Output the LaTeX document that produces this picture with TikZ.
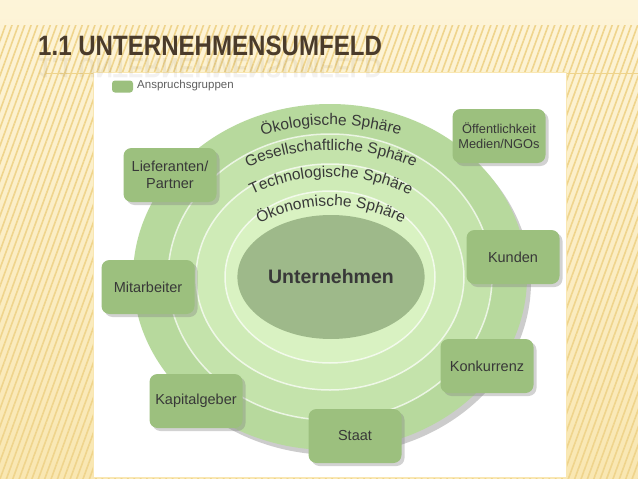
\documentclass[tikz,border=0pt]{standalone}
\usepackage{fontspec}
\setmainfont{Liberation Sans}
\newfontfamily\titlefont[FakeStretch=0.86]{Liberation Sans}
\usetikzlibrary{shadows,shapes.geometric,decorations.text,patterns.meta}
\definecolor{bgcream}{HTML}{F9E7B2}
\definecolor{bglight}{HTML}{FDF4D8}
\definecolor{stripe}{HTML}{EFD48C}
\definecolor{titlebrown}{HTML}{4A3B2B}
\definecolor{boxgreen}{HTML}{9CC07E}
\definecolor{ringA}{HTML}{B7D99D}
\definecolor{ringB}{HTML}{C4E3AB}
\definecolor{ringC}{HTML}{CFEBB7}
\definecolor{ringD}{HTML}{D9F2C2}
\definecolor{kerngreen}{HTML}{9EB98A}
\definecolor{textgray}{HTML}{383838}

\begin{document}
\begin{tikzpicture}[x=1pt, y=1pt,
    gruppe/.style={rectangle, rounded corners=8pt, fill=boxgreen,
      minimum width=93pt, minimum height=54pt, align=center, text=textgray,
      font=\fontsize{14.5}{17}\selectfont,
      drop shadow={shadow xshift=3pt, shadow yshift=-3pt, opacity=0.35}},
    ring/.style={draw=white, line width=1.5pt, draw opacity=0.7},
    sphaere/.style={decorate, decoration={text along path, text align=center,
      text color=textgray, text={|\fontsize{15.5}{18}\selectfont|#1}}}]
      \useasboundingbox (0,0) rectangle (638,-479);

      % slide background
      \shade[top color=bglight, bottom color=bgcream] (0,0) rectangle (638,-479);
      \fill[pattern={Lines[angle=70, distance=6pt, line width=1.6pt]},
        pattern color=stripe, fill opacity=0.3] (0,-25) rectangle (638,-479);
      \draw[color=stripe, line width=0.6pt] (45,-73) to (638,-73);
      \fill[white, draw=bgcream] (93,-72) rectangle (566,-477);

      \node[anchor=base west, inner sep=0pt, text=titlebrown,
        font=\titlefont\bfseries\fontsize{28}{30}\selectfont] (titel) at (38,-56) {1.1 UNTERNEHMENSUMFELD};
      \node[anchor=base west, inner sep=0pt, text=titlebrown, opacity=0.07, yscale=-1,
        font=\titlefont\bfseries\fontsize{28}{30}\selectfont] (spiegel) at (38,-58) {1.1 UNTERNEHMENSUMFELD};

      % spheres
      \fill[ringA, drop shadow={shadow xshift=4pt, shadow yshift=-5pt, opacity=0.4}]
        (330,-277) ellipse [x radius=197, y radius=173];
      \filldraw[fill=ringB, ring] (330,-277) ellipse [x radius=162, y radius=143];
      \filldraw[fill=ringC, ring] (330,-277) ellipse [x radius=134, y radius=113];
      \filldraw[fill=ringD, ring] (330,-277) ellipse [x radius=105, y radius=86];

      \path[sphaere={Ökologische Sphäre}] ([shift={(130:235)}]331,-360) arc[start angle=130, end angle=50, radius=235];
      \path[sphaere={Gesellschaftliche Sphäre}] ([shift={(130:210)}]331,-360) arc[start angle=130, end angle=50, radius=210];
      \path[sphaere={Technologische Sphäre}] ([shift={(135:183)}]331,-360) arc[start angle=135, end angle=45, radius=183];
      \path[sphaere={Ökonomische Sphäre}] ([shift={(140:154)}]331,-360) arc[start angle=140, end angle=40, radius=154];

      \node[ellipse, fill=kerngreen, minimum width=142pt, minimum height=124pt, text=textgray,
        font=\bfseries\fontsize{19.5}{22}\selectfont] (kern) at (331,-277) {Unternehmen};

      % stakeholder groups
      \node[gruppe, font=\fontsize{12.8}{15}\selectfont] (oeff) at (499,-136) {Öffentlichkeit\\Medien/NGOs};
      \node[gruppe] (lief) at (170,-175) {Lieferanten/\\Partner};
      \node[gruppe] (kunden) at (513,-257) {Kunden};
      \node[gruppe] (mitarb) at (148,-287) {Mitarbeiter};
      \node[gruppe] (konk) at (487,-366) {Konkurrenz};
      \node[gruppe] (kapital) at (196,-401) {Kapitalgeber};
      \node[gruppe] (staat) at (355,-436) {Staat};

      \node[rectangle, rounded corners=3pt, fill=boxgreen, inner sep=0pt,
        minimum width=21pt, minimum height=12pt] (legbox) at (122.5,-86.5) {};
      \node[anchor=west, inner sep=0pt, text=textgray!80,
        font=\fontsize{11.5}{13}\selectfont] (legtext) at (137,-86) {Anspruchsgruppen};

    \end{tikzpicture}
\end{document}
